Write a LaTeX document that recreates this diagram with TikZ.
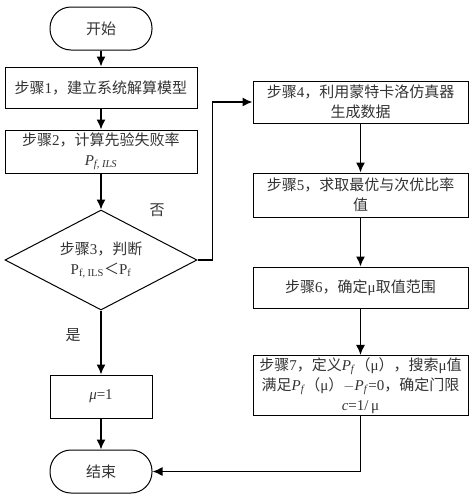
\documentclass[tikz,border=0pt]{standalone}
\usepackage{fontspec}
\setmainfont{Liberation Serif}
\newfontfamily\zhfont{Noto Sans CJK SC}
\usepackage{tikz}
\usetikzlibrary{shapes.geometric,arrows.meta,positioning,calc}
\newcommand{\zh}[1]{{\zhfont #1}}
\newcommand{\Pit}[1]{\textit{P}\textsubscript{\textit{#1}}}

\begin{document}
\begin{tikzpicture}[x=1pt, y=-1pt,
    font=\fontsize{15}{20}\selectfont,
    every node/.style={text=black!80},
    stepbox/.style={rectangle, draw=black, line width=1pt, minimum width=192pt, inner sep=2pt, align=center},
    rightbox/.style={stepbox, minimum width=215pt},
    terminal/.style={rectangle, draw=black, line width=1pt, rounded corners=21pt, minimum width=102pt, minimum height=43pt},
    decision/.style={diamond, draw=black, line width=1pt, aspect=1.92, inner sep=0pt, minimum width=192pt, minimum height=100pt, align=center},
    flow/.style={line width=1.4pt, -{Latex[length=10pt,width=9pt]}}
]
\useasboundingbox (0,0) rectangle (474,499);

% Left column
\node[terminal] (start) at (101,28.5) {\zh{开始}};
\node[stepbox, minimum height=41pt] (build) at (101,87.5) {\zh{步骤}1\zh{，建立系统解算模型}};
\node[stepbox, minimum height=43pt] (prior) at (101,151.5) {\zh{步骤}2\zh{，计算先验失败率}\\\Pit{f, ILS}};
\node[decision] (judge) at (101,260) {\zh{步骤}3\zh{，判断}\\P\textsubscript{f, ILS}\zh{＜}P\textsubscript{f}};
\node[stepbox, minimum width=102pt, minimum height=43pt] (muone) at (101,396.5) {\textit{μ}=1};
\node[terminal] (stop) at (101,471.5) {\zh{结束}};

% Right column
\node[rightbox, minimum height=42pt] (monte) at (360.5,102) {\zh{步骤}4\zh{，利用蒙特卡洛仿真器}\\\zh{生成数据}};
\node[rightbox, minimum height=44pt] (ratio) at (360.5,195) {\zh{步骤}5\zh{，求取最优与次优比率}\\\zh{值}};
\node[rightbox, minimum height=41pt] (range) at (360.5,287.5) {\zh{步骤}6\zh{，确定}μ\zh{取值范围}};
\node[rightbox, minimum height=55pt] (thresh) at (360.5,385.5) {\zh{步骤}7\zh{，定义}\Pit{f}\zh{（}μ\zh{），搜索}μ\zh{值}\\\zh{满足}\Pit{f}\zh{（}μ\zh{）}$-$\Pit{f}=0\zh{，确定门限}\\\textit{c}=1/\,μ};

% Labels
\node (no) at (157,210) {\zh{否}};
\node (yes) at (73,335) {\zh{是}};

% Connectors
\draw[flow] (start) -- (build);
\draw[flow] (build) -- (prior);
\draw[flow] (prior) -- (judge);
\draw[flow] (judge.south) -- (muone);
\draw[flow] (muone) -- (stop);
\draw[flow] (judge.east) -- ++(15,0) |- (monte.west);
\draw[flow] (monte) -- (ratio);
\draw[flow] (ratio) -- (range);
\draw[flow] (range) -- (thresh);
\draw[flow] (thresh.south) |- (stop.east);

\end{tikzpicture}
\end{document}
